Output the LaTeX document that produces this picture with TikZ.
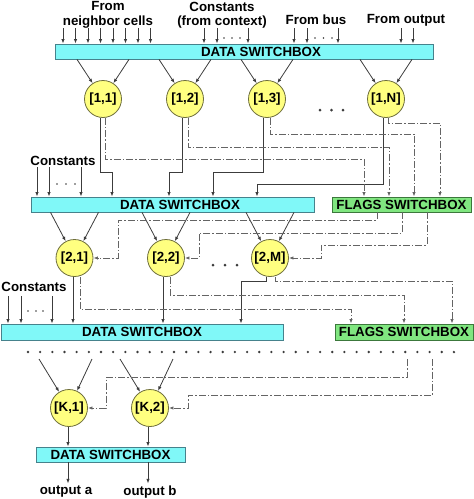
\documentclass[tikz,border=0pt]{standalone}
\usepackage{fontspec}
\setmainfont{Liberation Sans}
\usetikzlibrary{arrows.meta}
\definecolor{datafill}{RGB}{128,248,248}
\definecolor{databorder}{RGB}{70,130,140}
\definecolor{flagsfill}{RGB}{128,230,128}
\definecolor{flagsborder}{RGB}{60,120,60}
\definecolor{cellfill}{RGB}{255,255,128}
\definecolor{cellborder}{RGB}{110,110,60}
\definecolor{wirecol}{RGB}{60,60,60}
\definecolor{flagcol}{RGB}{100,100,100}
\tikzstyle{wire}=[draw=wirecol, line width=0.8pt]
\tikzstyle{flag}=[draw=flagcol, line width=0.8pt, dash pattern=on 7pt off 2pt on 1.5pt off 2pt]
\tikzstyle{sbox}=[draw, inner sep=0pt, minimum height=15pt, line width=0.8pt]
\tikzstyle{dswitch}=[sbox, fill=datafill, draw=databorder]
\tikzstyle{fswitch}=[sbox, fill=flagsfill, draw=flagsborder]
\tikzstyle{cell}=[circle, draw=cellborder, fill=cellfill, inner sep=0pt, minimum size=37pt, line width=0.8pt]
\tikzstyle{lbl}=[inner sep=0pt, align=center]
\tikzstyle{toplbl}=[lbl, font=\fontsize{13.3}{14.5}\selectfont\bfseries]

\begin{document}
\begin{tikzpicture}[x=1pt, y=-1pt, font=\fontsize{13.3}{15}\selectfont\bfseries,
    >={Latex[length=4.5pt,width=3.4pt]}]
        \useasboundingbox (0,0) rectangle (474,499);
        % inputs on top
        \node[toplbl] (lneigh) at (108,15) {From\\neighbor cells};
        \node[toplbl] (lconst) at (222,15) {Constants\\(from context)};
        \node[lbl] (lbus) at (316,20) {From bus};
        \node[lbl] (lout) at (406,20) {From output};
        % first stage
        \node[dswitch, minimum width=378pt] (D1) at (244,51.5) {};
        \node[lbl] (tD1) at (261,51.5) {DATA SWITCHBOX};
        \node[cell] (C11) at (103,99) {[1,1]};
        \node[cell] (C12) at (185,99) {[1,2]};
        \node[cell] (C13) at (267,99) {[1,3]};
        \node[cell] (C1N) at (386,99) {[1,N]};
        \foreach \x in {63,75.5,88,100.5,113,125.5,138,150.5,204,217,248,294,307,338,401,413}
            {\coordinate (in) at (\x,28); \draw[wire,->] (in) -- (in |- D1.north);}
        \foreach \x in {224,232,240,315,323.5,332}
            \fill[wirecol] (\x,38) circle (0.9pt);
        \foreach \x in {320,331.5,343}
            \fill[wirecol] (\x,110) circle (1.5pt);
        \foreach \c in {C11,C12,C13,C1N} {
            \draw[wire,->] (\c |- D1.south) ++(-26,0) -- (\c);
            \draw[wire,->] (\c |- D1.south) ++(26,0) -- (\c);
        }
        % second stage
        \node[lbl] (lconst2) at (63,161) {Constants};
        \node[dswitch, minimum width=283pt] (D2) at (172.5,204.5) {};
        \node[lbl] (tD2) at (180,204.5) {DATA SWITCHBOX};
        \node[fswitch, minimum width=139pt] (F2) at (401.5,204.5) {FLAGS SWITCHBOX};
        \node[cell] (C21) at (74.5,258) {[2,1]};
        \node[cell] (C22) at (166,258) {[2,2]};
        \node[cell] (C2M) at (270,258) {[2,M]};
        \foreach \x in {37,49,81}
            {\coordinate (in) at (\x,167); \draw[wire,->] (in) -- (in |- D2.north);}
        \foreach \x in {57,66,75}
            \fill[wirecol] (\x,184) circle (0.9pt);
        \foreach \x in {213,225,237}
            \fill[wirecol] (\x,265) circle (1.5pt);
        \draw[wire,->] ([xshift=-3pt]C11.south) |- (112,172) -- (112,0 |- D2.north);
        \draw[wire,->] ([xshift=-3pt]C12.south) |- (169,172) -- (169,0 |- D2.north);
        \draw[wire,->] ([xshift=-4pt]C13.south) |- (213,172) -- (213,0 |- D2.north);
        \draw[wire,->] ([xshift=-3pt]C1N.south) |- (257,184) -- (257,0 |- D2.north);
        \draw[flag,->] ([xshift=2pt]C11.south) |- (364,159) -- (364,0 |- F2.north);
        \draw[flag,->] ([xshift=3pt]C12.south) |- (389,147) -- (389,0 |- F2.north);
        \draw[flag,->] ([xshift=3pt]C13.south) |- (414,134) -- (414,0 |- F2.north);
        \draw[flag,->] ([xshift=2pt]C1N.south) |- (440,123) -- (440,0 |- F2.north);
        \foreach \c in {C21,C22,C2M} {
            \draw[wire,->] (\c |- D2.south) ++(-24,0) -- (\c);
            \draw[wire,->] (\c |- D2.south) ++(24,0) -- (\c);
        }
        \draw[flag,->] (377,0 |- F2.south) |- (118,220) |- (C21.east);
        \draw[flag,->] (402,0 |- F2.south) |- (199,233) |- (C22.east);
        \draw[flag,->] (427,0 |- F2.south) |- (321,245) |- (C2M.east);
        % third stage
        \node[lbl] (lconst3) at (34,287) {Constants};
        \node[dswitch, minimum width=282pt, minimum height=16pt] (D3) at (142,332) {DATA SWITCHBOX};
        \node[fswitch, minimum width=138pt, minimum height=16pt] (F3) at (404,332) {FLAGS SWITCHBOX};
        \foreach \x in {8,21,52}
            {\coordinate (in) at (\x,296); \draw[wire,->] (in) -- (in |- D3.north);}
        \foreach \x in {28,36,43}
            \fill[wirecol] (\x,311) circle (0.9pt);
        \draw[wire,->] ([xshift=-1.5pt]C21.south) -- ([xshift=-1.5pt]C21.south |- D3.north);
        \draw[wire,->] ([xshift=-3pt]C22.south) -- ([xshift=-3pt]C22.south |- D3.north);
        \draw[wire,->] ([xshift=-4pt]C2M.south) |- (241,281) -- (241,0 |- D3.north);
        \draw[flag,->] ([xshift=5.5pt]C21.south) |- (351,309) -- (351,0 |- F3.north);
        \draw[flag,->] ([xshift=4pt]C22.south) |- (404,295) -- (404,0 |- F3.north);
        \draw[flag,->] ([xshift=5pt]C2M.south) |- (452,281) -- (452,0 |- F3.north);
        % more stages
        \foreach \i in {0,...,35}
            \fill[wirecol] ({28+12.17*\i},352) circle (1.3pt);
        % last stage
        \node[cell] (CK1) at (69,408) {[K,1]};
        \node[cell] (CK2) at (150,408) {[K,2]};
        \node[dswitch, minimum width=149pt] (DK) at (110.5,454.5) {DATA SWITCHBOX};
        \foreach \c in {CK1,CK2} {
            \coordinate (inl) at ([xshift=-30pt]\c |- 0,359);
            \coordinate (inr) at ([xshift=23pt]\c |- 0,359);
            \draw[wire,->] (inl) -- (\c);
            \draw[wire,->] (inr) -- (\c);
        }
        \coordinate (fk1) at (407,359);
        \coordinate (fk2) at (432,359);
        \draw[flag,->] (fk1) |- (106,377) |- (CK1.east);
        \draw[flag,->] (fk2) |- (188,395) |- (CK2.east);
        \draw[wire,->] ([xshift=-1pt]CK1.south) -- ([xshift=-1pt]CK1.south |- DK.north);
        \draw[wire,->] ([xshift=-2pt]CK2.south) -- ([xshift=-2pt]CK2.south |- DK.north);
        \node[lbl] (outa) at (66,492) {output a};
        \node[lbl] (outb) at (150,492) {output b};
        \draw[wire,->] (outa |- DK.south) ++(2,0) -- ++(0,21);
        \draw[wire,->] (outb |- DK.south) ++(-2,0) -- ++(0,21);
    \end{tikzpicture}
\end{document}
